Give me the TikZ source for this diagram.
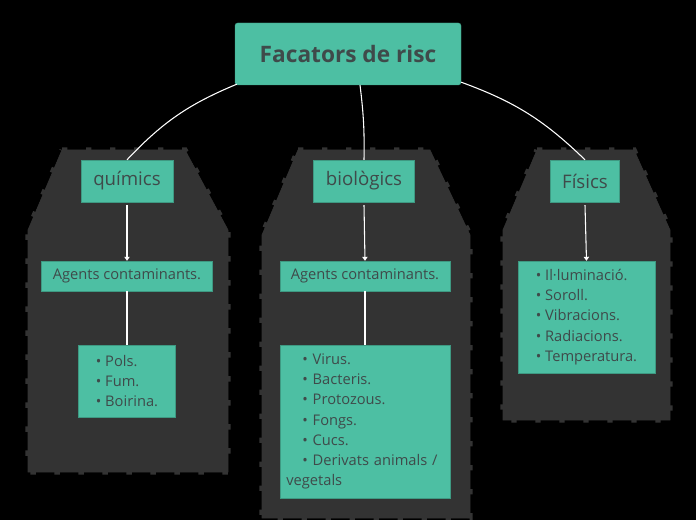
\documentclass[tikz,border=0pt]{standalone}
\usepackage{fontspec}
\setmainfont{Open Sans}
\usetikzlibrary{arrows.meta}
\definecolor{tealbox}{HTML}{4DBFA3}
\definecolor{txt}{HTML}{3F4A4A}
\definecolor{cont}{HTML}{333333}
\begin{document}
\begin{tikzpicture}[x=0.75pt,y=-0.75pt,
  box/.style={fill=tealbox,text=txt,inner sep=0pt,draw=tealbox!80!black,line width=0.3pt},
  container/.style={fill=cont,draw=cont,line width=0.5pt},
  notch/.style={draw=cont,line width=4pt,dash pattern=on 4pt off 14pt},
  conn/.style={draw=white,line width=0.8pt},
  arr/.style={conn,-{Triangle[width=4pt,length=3pt]}}]
\fill[black] (0,0) rectangle (696,520);
\useasboundingbox (0,0) rectangle (696,520);
% containers
\foreach \a/\b/\c/\d/\ys/\yb in {62/185/28/228/230/472, 298/430/262/470/235/518, 537/634/503/670/230/420}{
  \path[container] (\a,150) -- (\b,150) -- (\d,\ys) -- (\d,\yb) -- (\c,\yb) -- (\c,\ys) -- cycle;
  \path[notch] (\a,150) -- (\b,150) -- (\d,\ys) -- (\d,\yb) -- (\c,\yb) -- (\c,\ys) -- cycle;
}
% nodes
\node[box,minimum width=169.5pt,minimum height=46.5pt,rounded corners=2pt,font=\bfseries\fontsize{17}{20}\selectfont] (t) at (348,54) {Facators de risc};
\node[box,minimum width=69pt,minimum height=31.5pt,font=\fontsize{14}{16}\selectfont] (q) at (127,181) {químics};
\node[box,minimum width=75.75pt,minimum height=31.5pt,font=\fontsize{14}{16}\selectfont] (b) at (364,181) {biològics};
\node[box,minimum width=51.75pt,minimum height=31.5pt,font=\fontsize{14}{16}\selectfont] (f) at (585,181) {Físics};
\node[box,minimum width=128.25pt,minimum height=22.5pt,font=\fontsize{11}{13}\selectfont] (qa) at (127,276) {Agents contaminants.};
\node[box,minimum width=127.5pt,minimum height=22.5pt,font=\fontsize{11}{13}\selectfont] (ba) at (365,276) {Agents contaminants.};
\node[box,minimum width=72.75pt,minimum height=54pt,align=left,font=\fontsize{11}{15}\selectfont] (ql) at (127,381) {• Pols.\\• Fum.\\• Boirina.};
\node[box,minimum width=127.5pt,minimum height=114.75pt,text width=118pt,inner xsep=4.75pt,align=left,font=\fontsize{11}{15.2}\selectfont] (bl) at (365,421.5) {\hspace*{12pt}• Virus.\\\hspace*{12pt}• Bacteris.\\\hspace*{12pt}• Protozous.\\\hspace*{12pt}• Fongs.\\\hspace*{12pt}• Cucs.\\\hspace*{12pt}• Derivats animals /\\vegetals};
\node[box,minimum width=102.75pt,minimum height=84pt,align=left,font=\fontsize{11}{15.2}\selectfont] (fl) at (586.5,317) {• Il·luminació.\\• Soroll.\\• Vibracions.\\• Radiacions.\\• Temperatura.};
% connectors
\draw[conn] (t.south west) ++(2,-1) to[bend right=12] (q.north);
\draw[conn] (360,85) to[bend left=4] (b.north);
\draw[conn] (t.south east) ++(0,-3) to[bend left=12] (f.north);
\draw[arr] (q.south) ++(0,3) -- (qa.north);
\draw[arr] (b.south) ++(0,3) -- (ba.north);
\draw[arr] (f.south) ++(0,3) -- (fl.north);
\draw[conn] (qa.south) -- (ql.north);
\draw[conn] (ba.south) -- (bl.north);
\end{tikzpicture}
\end{document}
